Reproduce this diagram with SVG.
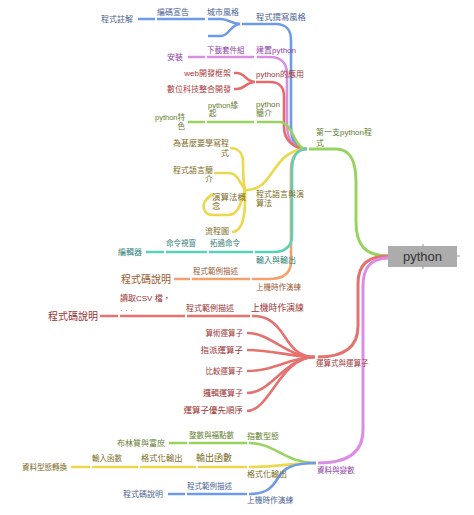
<svg xmlns="http://www.w3.org/2000/svg" width="474" height="515" viewBox="0 0 474 515">
<style>
text{font-family:"Liberation Sans","Noto Sans CJK TC",sans-serif;font-size:8px}
.c path{fill:none;stroke-width:2.6;stroke-linecap:butt}
.c .m{stroke-width:3}
.b{stroke:#6d9be6}.p{stroke:#db8de6}.r{stroke:#e56b6b}.g{stroke:#97d35e}.y{stroke:#ecd84d}.t{stroke:#56d2b7}.o{stroke:#f2a26f}.s{stroke:#e5726e}
.tb{fill:#4a5f95}.tp{fill:#8e3fa6}.tr{fill:#a33a3a}.tg{fill:#5f7d2d}.ty{fill:#7d6b26}.tt{fill:#2e7d73}.to{fill:#9a5a35}.ts{fill:#9c3535}
.e{text-anchor:end}
</style>
<rect width="474" height="515" fill="#ffffff"/>
<g id="connectors" class="c">
<path class="g m" d="M389,256 C364,256 356,244 356,222 L356,182 C356,160 350,149 336,149 L309,149"/>
<path class="s m" d="M389,256 C368,256 358,264 358,284 L358,326 C358,346 346,357 318,357"/>
<path class="p m" d="M389,258 C370,258 363,268 363,286 L363,430 C363,451 350,463 318,463"/>
<path class="b" d="M307,149 C296,149 291,141 291,126 L291,40 C291,30 286,24 276,24 L242,24"/>
<path class="b" d="M240,24 C231,24 229,19 221,19 L208,19"/>
<path class="b" d="M240,24 C231,24 229,36 221,36 L208,36"/>
<path class="b" d="M157,19 L205,19 M138,19 L155,19"/>
<path class="p" d="M307,149 C294,149 287,140 287,124 L287,74 C287,63 281,57 270,57 L257,57 M207,57 L254,57 M188,57 L205,57"/>
<path class="r" d="M307,149 C295,149 284,141 284,127 L284,96 C284,87 279,82 270,82 L256,82"/>
<path class="r" d="M255,82 C246,82 245,73 237,73 L234,73 M255,82 C246,82 245,89 237,89 L234,89"/>
<path class="g" d="M307,149 C293,149 294,122 279,122 L257,122 M207,122 L254,122 M188,122 L205,122"/>
<path class="y" d="M307,149 C287,149 279,163 271,174 C264,184 258,190 246,190"/>
<path class="y" d="M245,190 C243,182 243,170 243,162 C243,153 238,148 230,148"/>
<path class="y" d="M245,190 C239,180 236,173 229,173 L214,173"/>
<path class="y" d="M245,190 C241,202 239,215 228,215 L213,215 C204,215 201,206 206,200 C208,197 211,195 214,194"/>
<path class="y" d="M245,190 C246,205 244,222 240,227 C238,230 236,232 232,232"/>
<path class="o" d="M307,149 C297,149 291,157 291,170 L291,262 C291,273 283,279 270,279 L252,279 M192,279 L250,279 M174,279 L190,279"/>
<path class="t" d="M307,149 C297,149 292,157 292,170 L292,236 C292,246 285,252 274,252 L255,252 M209,252 L253,252 M166,252 L207,252 M146,252 L164,252"/>
<path class="s" d="M315,357 C294,357 288,340 280,330 C272,320 265,316 252,316 M187,316 L250,316 M120,316 L185,316 M100,316 L118,316"/>
<path class="s" d="M315,357 C285,357 272,333 247,333"/>
<path class="s" d="M315,357 C290,357 275,350 247,350"/>
<path class="s" d="M315,357 C290,357 275,371 247,371"/>
<path class="s" d="M315,357 C285,357 272,393 247,393"/>
<path class="s" d="M315,357 C280,357 270,411 247,411"/>
<path class="g" d="M316,463 C285,463 275,443 249,443 M189,443 L247,443 M169,443 L187,443"/>
<path class="y" d="M316,463 C290,463 280,467 249,467 M198,467 L247,467 M140,467 L196,467 M92,467 L138,467 M71,467 L90,467"/>
<path class="b" d="M316,463 C292,463 284,468 278,478 C272,488 266,494 249,494 M187,494 L247,494 M168,494 L185,494"/>
</g>
<g id="root">
<rect x="388" y="246" width="69" height="21" fill="#acacac"/>
<path d="M423,244 L423,247 M423,266 L423,269 M457,256 L460,256" stroke="#999" stroke-width="1"/>
<text x="422.5" y="261" text-anchor="middle" style="font-size:13px" fill="#333">python</text>
</g>
<g id="n-first"><text class="tg" x="316" y="135">第一支python程</text><text class="tg" x="316" y="146">式</text></g>
<g id="n-style"><text class="tb" x="256" y="20" style="font-size:8.3px">程式撰寫風格</text></g>
<g id="n-city"><text class="tb" x="207" y="15">城市風格</text></g>
<g id="n-enc"><text class="tb" x="157" y="15">編碼宣告</text></g>
<g id="n-comment"><text class="tb" x="101" y="22">程式註解</text></g>
<g id="n-build"><text class="tp" x="256" y="53">建置python</text></g>
<g id="n-dl"><text class="tp" x="207" y="53" style="font-size:7.5px">下載套件組</text></g>
<g id="n-install"><text class="tp" x="167" y="60">安裝</text></g>
<g id="n-app"><text class="tr" x="256" y="77">python的應用</text></g>
<g id="n-web"><text class="tr e" x="231" y="76">web開發框架</text></g>
<g id="n-digital"><text class="tr e" x="231" y="92">數位科技整合開發</text></g>
<g id="n-intro"><text class="tg" x="256" y="107">python</text><text class="tg" x="256" y="116">簡介</text></g>
<g id="n-origin"><text class="tg" x="208" y="108" style="font-size:7.5px">python緣</text><text class="tg" x="209" y="116" style="font-size:7.5px">起</text></g>
<g id="n-feature"><text class="tg e" x="185" y="120" style="font-size:7.5px">python特</text><text class="tg e" x="185" y="129" style="font-size:7.5px">色</text></g>
<g id="n-lang"><text class="ty" x="256" y="197">程式語言與演</text><text class="ty" x="256" y="206">算法</text></g>
<g id="n-why"><text class="ty e" x="229" y="146">為甚麼要學寫程</text><text class="ty e" x="229" y="156">式</text></g>
<g id="n-langintro"><text class="ty e" x="213" y="173">程式語言簡</text><text class="ty e" x="213" y="182">介</text></g>
<g id="n-algo"><text class="ty" x="212" y="200" style="font-size:8.5px">演算法概</text><text class="ty" x="212" y="209" style="font-size:8.5px">念</text></g>
<g id="n-flow"><text class="ty" x="205" y="234">流程圖</text></g>
<g id="n-io"><text class="tt" x="256" y="263">輸入與輸出</text></g>
<g id="n-cmd"><text class="tt" x="210" y="246" style="font-size:7.5px">拓過命令</text></g>
<g id="n-win"><text class="tt" x="166" y="246" style="font-size:7.5px">命令視窗</text></g>
<g id="n-editor"><text class="tt" x="118" y="255">編輯器</text></g>
<g id="n-prac1"><text class="to" x="256" y="290" style="font-size:7.5px">上機時作演練</text></g>
<g id="n-ex1"><text class="to" x="193" y="274" style="font-size:7.5px">程式範例描述</text></g>
<g id="n-code1"><text class="to" x="121" y="283" style="font-size:10px">程式碼說明</text></g>
<g id="n-ops"><text class="ts" x="316" y="366" style="font-size:7.5px">運算式與運算子</text></g>
<g id="n-prac2"><text class="ts" x="251" y="311" style="font-size:8.8px">上機時作演練</text></g>
<g id="n-ex2"><text class="ts" x="186" y="311">程式範例描述</text></g>
<g id="n-csv"><text class="ts" x="120" y="301">讀取CSV 檔，</text><text class="ts" x="120" y="311" style="letter-spacing:3px">...</text></g>
<g id="n-code2"><text class="ts" x="48" y="320" style="font-size:10px">程式碼說明</text></g>
<g id="n-arith"><text class="ts e" x="243" y="336" style="font-size:7.5px">算術運算子</text></g>
<g id="n-assign"><text class="ts e" x="243" y="353" style="font-size:8.5px">指派運算子</text></g>
<g id="n-cmp"><text class="ts e" x="243" y="374" style="font-size:7.5px">比較運算子</text></g>
<g id="n-logic"><text class="ts e" x="243" y="396">邏輯運算子</text></g>
<g id="n-prio"><text class="ts e" x="243" y="413" style="font-size:8.5px">運算子優先順序</text></g>
<g id="n-data"><text class="tp" x="317" y="473" style="font-size:7.5px">資料與變數</text></g>
<g id="n-exp"><text class="tg" x="247" y="439">指數型態</text></g>
<g id="n-int"><text class="tg" x="189" y="438" style="font-size:7.5px">整數與福點數</text></g>
<g id="n-bool"><text class="tg e" x="165" y="446">布林質與富庶</text></g>
<g id="n-fmt2"><text class="ty" x="247" y="477">格式化輸出</text></g>
<g id="n-out"><text class="ty" x="196" y="461" style="font-size:9px">輸出函數</text></g>
<g id="n-fmt1"><text class="ty" x="141" y="461" style="font-size:8.3px">格式化輸出</text></g>
<g id="n-in"><text class="ty" x="92" y="461" style="font-size:7.5px">輸入函數</text></g>
<g id="n-conv"><text class="ty" x="22" y="470" style="font-size:7.5px">資料型態轉換</text></g>
<g id="n-prac3"><text class="tb" x="247" y="503" style="font-size:7.7px">上機時作演練</text></g>
<g id="n-ex3"><text class="tb" x="187" y="489" style="font-size:7.5px">程式範例描述</text></g>
<g id="n-code3"><text class="tb" x="123" y="497">程式碼說明</text></g>
</svg>
